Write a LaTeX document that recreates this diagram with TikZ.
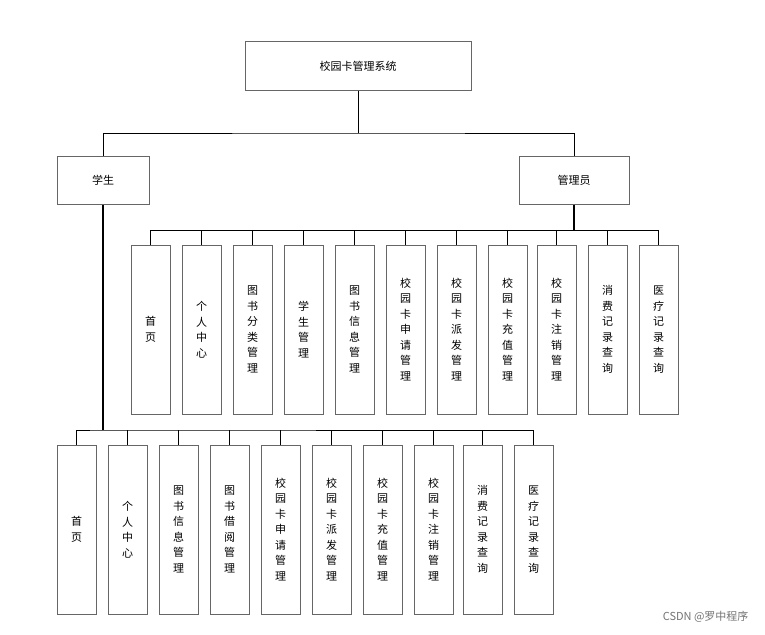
\documentclass[tikz,border=0pt]{standalone}
\usepackage{fontspec}
\setmainfont{Noto Sans CJK SC}
\begin{document}
\begin{tikzpicture}[x=1pt,y=-1pt,
  box/.style={draw=black!60,line width=1pt,fill=white,inner sep=0pt,font=\fontsize{11}{14}\selectfont},
  vbox/.style={box,minimum width=39pt,minimum height=169pt,align=center,font=\fontsize{11}{15.5}\selectfont},
  conn/.style={line width=0.9pt}]
\useasboundingbox (0,0) rectangle (765,634);
\node[box,minimum width=226pt,minimum height=48pt] (root) at (358,66) {校园卡管理系统};
\node[box,minimum width=92pt,minimum height=48pt] (stu) at (103,180) {学生};
\node[box,minimum width=110pt,minimum height=48pt] (adm) at (574,180) {管理员};
\coordinate (rj) at (358,133);
\draw[conn] (root.south) -- (rj);
\draw[conn] (stu.north) |- (rj) -| (adm.north);
% admin children
\foreach \i/\x/\t in {1/150.5/首\\页, 2/201.5/个\\人\\中\\心, 3/252.5/图\\书\\分\\类\\管\\理, 4/303.5/学\\生\\管\\理, 5/354.5/图\\书\\信\\息\\管\\理, 6/405.5/校\\园\\卡\\申\\请\\管\\理, 7/456.5/校\\园\\卡\\派\\发\\管\\理, 8/507.5/校\\园\\卡\\充\\值\\管\\理, 9/556.5/校\\园\\卡\\注\\销\\管\\理, 10/607.5/消\\费\\记\\录\\查\\询, 11/658.5/医\\疗\\记\\录\\查\\询}
  \node[vbox] (a\i) at (\x,329.5) {\t};
\coordinate (aj) at (574,230);
\draw[line width=2pt] (adm.south) -- (aj);
\draw[conn] (a1.north) |- (aj);
\draw[conn] (aj) -| (a11.north);
\foreach \i in {2,...,10} \draw[conn] (a\i.north) -- ++(0,-15);
% student children
\foreach \i/\x/\t in {1/76.5/首\\页, 2/127.5/个\\人\\中\\心, 3/178.5/图\\书\\信\\息\\管\\理, 4/229.5/图\\书\\借\\阅\\管\\理, 5/280.5/校\\园\\卡\\申\\请\\管\\理, 6/331.5/校\\园\\卡\\派\\发\\管\\理, 7/382.5/校\\园\\卡\\充\\值\\管\\理, 8/433.5/校\\园\\卡\\注\\销\\管\\理, 9/482.5/消\\费\\记\\录\\查\\询, 10/533.5/医\\疗\\记\\录\\查\\询}
  \node[vbox] (s\i) at (\x,529.5) {\t};
\coordinate (sj) at (103,430);
\draw[line width=2pt] (stu.south) -- (sj);
\draw[conn] (s1.north) |- (sj) -| (s10.north);
\foreach \i in {2,...,9} \draw[conn] (s\i.north) -- ++(0,-15);
\node[text=black!55,font=\fontsize{11}{13}\selectfont,anchor=east] (wm) at (752,617) {CSDN @罗中程序};
\end{tikzpicture}
\end{document}
